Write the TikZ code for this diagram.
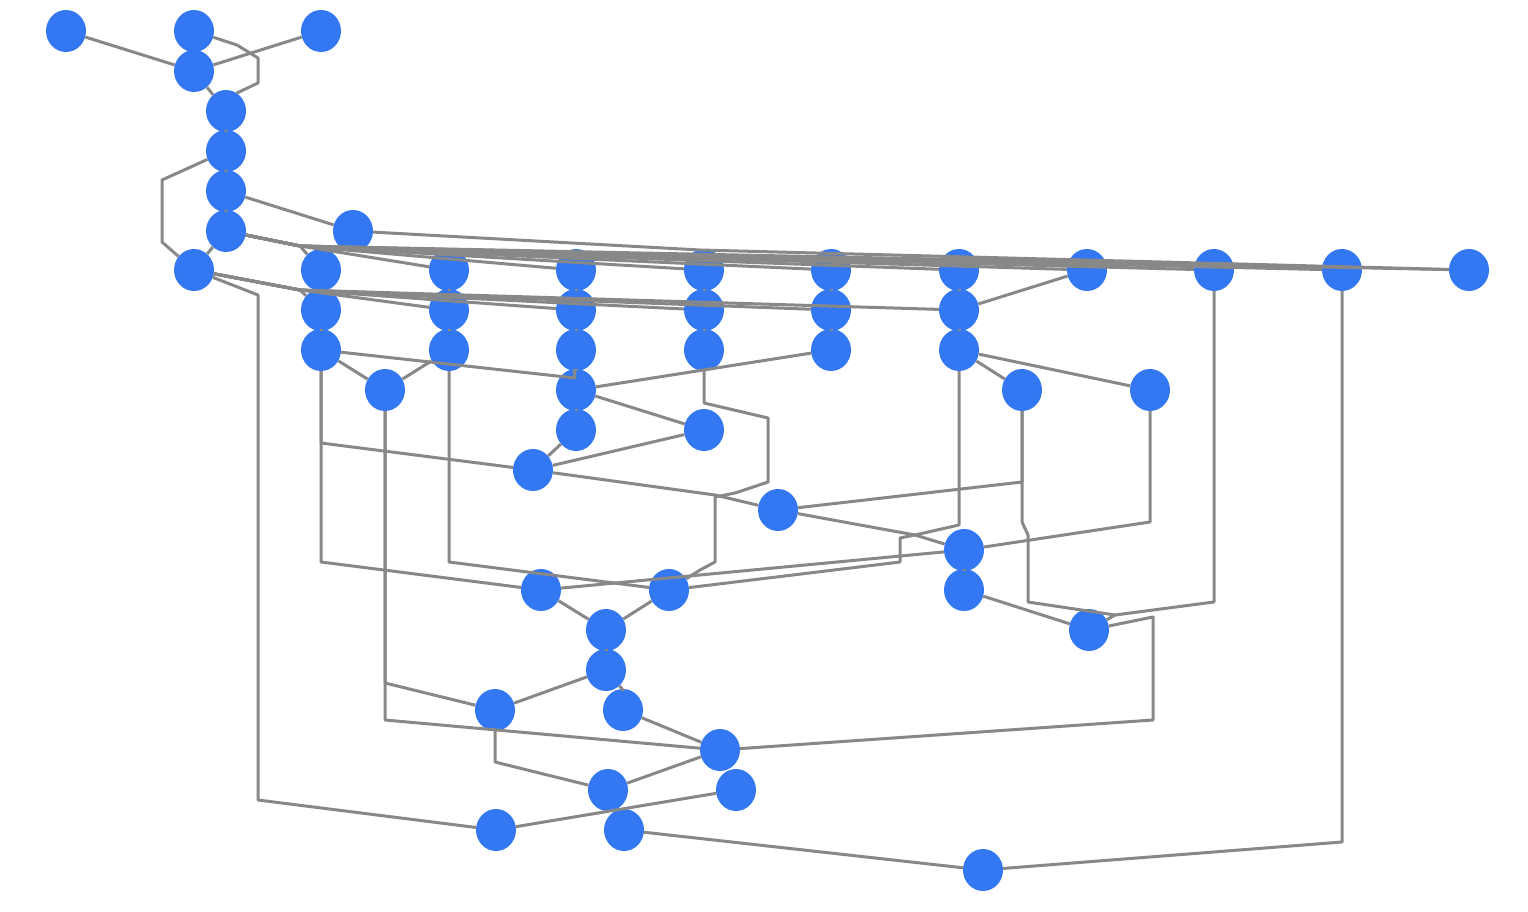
\documentclass[tikz,border=0pt]{standalone}
\usetikzlibrary{positioning,shapes.geometric}
\definecolor{nodeblue}{RGB}{51,119,242}
\definecolor{edgegray}{RGB}{136,136,136}
\begin{document}
\begin{tikzpicture}[x=1pt,y=-1pt,
    vertex/.style={ellipse,fill=nodeblue,minimum width=40pt,minimum height=42pt,inner sep=0pt},
    link/.style={draw=edgegray,line width=3pt,line join=round}]
  \useasboundingbox (0,0) rectangle (1528,912);
      % nodes
      \foreach \n/\x/\y in {a1/66/31,a2/194/31,a3/321/31,b/194/71,c1/226/111,c2/226/151,
          c3/226/191,c4/226/231,d/353/231,
          r0/194/270,r1/321/270,r2/449/270,r3/576/270,r4/704/270,r5/831/270,r6/959/270,
          r7/1087/270,r8/1214/270,r9/1342/270,r10/1469/270,
          s1/321/310,s2/449/310,s3/576/310,s4/704/310,s5/831/310,s6/959/310,
          t1/321/350,t2/449/350,t3/576/350,t4/704/350,t5/831/350,t6/959/350,
          u1/385/390,u2/576/390,u3/1022/390,u4/1150/390,v1/576/430,v2/704/430,
          w/533/470,x/778/510,y1/964/550,z1/541/590,z2/669/590,z3/964/590,
          p1/606/630,p2/1089/630,q/606/670,m1/495/710,m2/623/710,n/720/750,
          o1/608/790,o2/736/790,k1/496/830,k2/624/830,last/983/870}
        \node[vertex] (\n) at (\x,\y) {};

      % edges
      \draw[link] (a1) -- (b);
      \draw[link] (a3) -- (b);
      \draw[link] (a2) -- (237,45) -- (258,58) -- (258,83) -- (237,93) -- (c1);
      \draw[link] (b) -- (c1);
      \draw[link] (c1) -- (c2) -- (c3) -- (c4) -- (r0);
      \draw[link] (c2) -- (162,180) -- (162,242) -- (r0);
      \draw[link] (c3) -- (d);
      \foreach \t in {r1,r2,r3,r4,r5,r6,r7,r8,r9,r10}
        \draw[link] (c4) -- (300,246) -- (\t);
      \draw[link] (d) -- (700,250) -- (r10);
      \foreach \t in {s1,s2,s3,s4,s5,s6}
        \draw[link] (r0) -- (300,290) -- (\t);
      \draw[link] (r7) -- (s6);
      \draw[link] (r0) -- (258,295) -- (258,800) -- (k1);
      \foreach \a/\b in {r1/s1,s1/t1,r2/s2,s2/t2,r3/s3,s3/t3,t3/u2,u2/v1,r4/s4,s4/t4,
          r5/s5,s5/t5,r6/s6,s6/t6,t6/u3,y1/z3,z1/p1,z2/p1,p1/q,m2/n,o1/k2}
        \draw[link] (\a) -- (\b);
      \draw[link] (t1) -- (u1);
      \draw[link] (t2) -- (u1);
      \draw[link] (t1) -- (575,378) -- (u2);
      \draw[link] (t5) -- (u2);
      \draw[link] (t6) -- (u4);
      \draw[link] (u2) -- (v2);
      \draw[link] (v1) -- (w);
      \draw[link] (v2) -- (w);
      \draw[link] (t1) -- (321,443) -- (w);
      \draw[link] (t1) -- (321,562) -- (z1);
      \draw[link] (t2) -- (449,562) -- (z2);
      \draw[link] (w) -- (715,495) -- (x);
      \draw[link] (t4) -- (704,403) -- (768,418) -- (768,482) -- (735,493) -- (715,497)
          -- (715,562) -- (700,570) -- (z2);
      \draw[link] (u3) -- (1022,482) -- (x);
      \draw[link] (x) -- (915,535) -- (y1);
      \draw[link] (t6) -- (959,525) -- (915,535) -- (900,538) -- (900,562) -- (z2);
      \draw[link] (y1) -- (z1);
      \draw[link] (u4) -- (1150,522) -- (y1);
      \draw[link] (u3) -- (1022,522) -- (1028,535) -- (1028,602) -- (1115,615) -- (p2);
      \draw[link] (z3) -- (p2);
      \draw[link] (r8) -- (1214,602) -- (1115,615);
      \draw[link] (q) -- (m1);
      \draw[link] (q) -- (623,690) -- (m2);
      \draw[link] (u1) -- (385,683) -- (m1);
      \draw[link] (u1) -- (385,720) -- (n);
      \draw[link] (p2) -- (1153,617) -- (1153,720) -- (n);
      \draw[link] (m1) -- (495,762) -- (o1);
      \draw[link] (n) -- (o1);
      \draw[link] (o2) -- (k1);
      \draw[link] (k2) -- (last);
      \draw[link] (r9) -- (1342,842) -- (last);
\end{tikzpicture}
\end{document}
